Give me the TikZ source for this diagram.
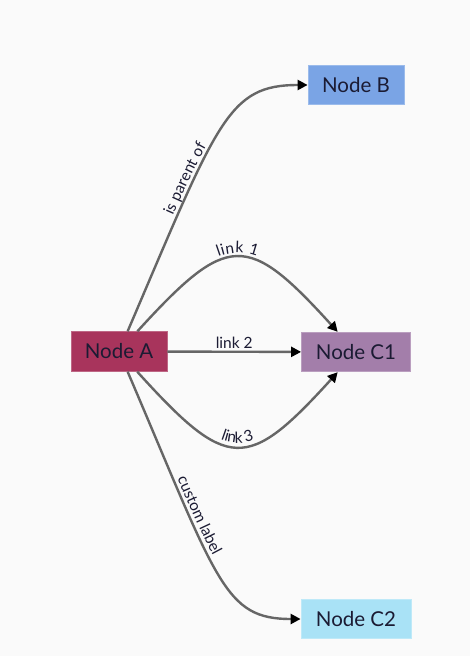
\documentclass[tikz,border=0pt]{standalone}
\usepackage{fontspec}
\setmainfont{Lato}
\usetikzlibrary{arrows.meta,decorations.text}
\definecolor{bg}{HTML}{FAFAFA}
\definecolor{ca}{HTML}{A8345C}
\definecolor{cb}{HTML}{7AA4E5}
\definecolor{cc1}{HTML}{A37EAA}
\definecolor{cc2}{HTML}{A9E2F6}
\definecolor{edgec}{HTML}{666666}
\definecolor{txt}{HTML}{1B1B33}
\newcommand\lblfont{\fontsize{15.5}{18}\selectfont\color{txt}}
\begin{document}
\begin{tikzpicture}[x=1pt,y=-1pt,
  box/.style={rectangle, minimum height=39.5pt, inner sep=0pt, line width=0.8pt,
    font=\fontsize{20.5}{24}\selectfont, text=txt},
  edge/.style={draw=edgec, line width=2.4pt, -{Triangle[length=10pt,width=10pt,color=black]}},
  pathlabel/.style={postaction={decorate}, decoration={text along path,
    text={|\lblfont|#1}, text align=center, raise=4pt}},
  straightlabel/.style={above, inner sep=2.5pt, text=txt, font=\fontsize{15.5}{18}\selectfont}
]
\fill[bg] (0,0) rectangle (470,656);
\useasboundingbox (0,0) rectangle (470,656);

\node[box, fill=ca, draw=ca!75!white, minimum width=96pt] (A) at (119,351.5) {Node A};
\node[box, fill=cb, draw=cb!75!white, minimum width=96pt] (B) at (356,85) {Node B};
\node[box, fill=cc1, draw=cc1!75!white, minimum width=109pt] (C1) at (356,352) {Node C1};
\node[box, fill=cc2, draw=cc2!75!white, minimum width=110pt] (C2) at (356,619) {Node C2};

\draw[edge, pathlabel={is parent of}] (A) .. controls (218,120) and (228,85) .. (B);
\draw[edge, pathlabel={link 1}] (A) .. controls (228,232) and (247,232) .. (C1);
\draw[edge] (A) -- node[straightlabel] {link 2} (C1);
\draw[edge, pathlabel={link 3}] (A) .. controls (228,472) and (247,472) .. (C1);
\draw[edge, pathlabel={custom label}] (A) .. controls (218,583) and (224,619) .. (C2);
\end{tikzpicture}
\end{document}
